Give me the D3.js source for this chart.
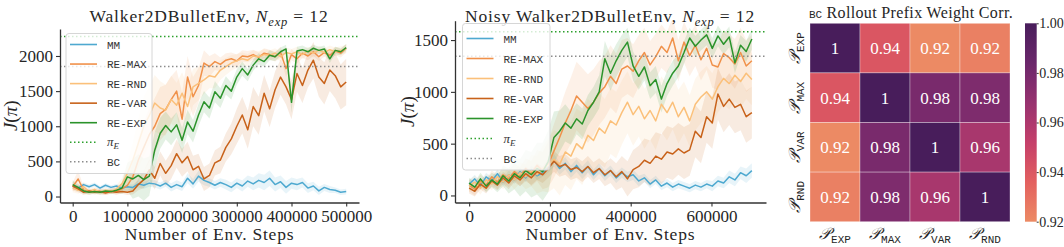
<!DOCTYPE html>
<html>
<head>
<meta charset="utf-8">
<script src="https://cdn.jsdelivr.net/npm/d3@7"></script>
<style>
  body { margin: 0; background: #fff; }
  svg { display: block; }
</style>
</head>
<body>
<script>
// ---- data ----
const methods = ["MM", "RE-MAX", "RE-RND", "RE-VAR", "RE-EXP"];
const colors = ["#4ea9d0", "#f0914a", "#fbc07a", "#c8621a", "#2b932b"];

// Walker2DBulletEnv, steps 0..500000 every 10000
const steps1 = d3.range(0, 500001, 10000);
const mm1 = [150,120,170,140,170,120,160,130,150,120, 140,130,180,160,190,180,150,190,130,170,
  140,260,180,290,230,200,160,200,170,130, 190,150,220,180,230,200,260,170,210,130,
  190,170,200,120,150,80,130,100,90,60,70];
const reMax1 = [140,250,90,60,80,70,60,80,70,110, 160,280,520,700,880,1000,1180,1240,1380,1500,
  1100,1700,1420,1580,1900,1850,1920,1880,1940,1960, 1930,2000,1990,2020,1980,2040,2020,1990,2050,1820,
  2020,1960,2040,2000,2060,1990,2050,2010,2070,2040,2110];
const reRnd1 = [120,90,140,70,100,60,90,70,110,180, 330,520,760,1000,1150,1330,1260,1230,1380,1300,
  1470,1280,1560,1610,1660,1720,1700,1800,1850,1900, 1930,1960,1940,2000,1990,2020,2010,2040,1990,2050,
  2030,2060,2020,2070,2040,2080,2050,2090,2060,2080,2100];
const reVar1 = [150,110,60,80,60,70,50,70,60,70, 60,80,170,240,380,260,470,330,440,610,
  480,570,380,430,250,300,480,520,700,820, 1000,1160,950,1280,1150,1470,1250,1520,1700,1560,
  1380,1750,1580,1800,1940,1700,1610,1800,1720,1560,1630];
const reExp1 = [170,130,80,60,70,60,80,70,90,120, 280,250,300,240,290,660,900,1010,920,1020,
  800,1060,930,1160,1350,1260,1490,1400,1580,1500, 1700,1820,1730,1870,1960,1920,2010,1990,2060,2100,
  1340,2070,2090,2060,2110,2080,2100,1960,2080,2060,2120];
const mm1Sd = [30,30,30,30,30,30,30,30,30,30, 40,40,50,50,50,50,50,50,60,60,
  60,70,70,80,70,60,60,60,70,70, 70,80,80,90,100,110,110,100,90,90,
  80,80,70,70,60,60,50,50,40,40,40];
const reMax1Sd = [60,120,50,40,40,40,40,40,40,60, 100,200,300,350,380,400,380,350,330,300,
  380,300,280,250,180,150,120,100,100,90, 90,80,80,70,70,70,70,70,80,120,
  80,70,70,60,60,60,60,60,60,60,60];
const reRnd1Sd = [60,50,60,40,40,40,40,40,50,80, 150,250,350,420,420,400,380,360,340,320,
  300,280,260,240,200,180,160,140,120,110, 100,90,90,80,80,80,70,70,70,70,
  70,70,60,60,60,60,60,60,60,60,60];
const reVar1Sd = [60,50,40,30,30,30,30,30,30,30, 40,50,80,120,150,160,170,180,190,200,
  200,210,200,180,170,170,180,190,200,220, 250,260,270,280,270,260,260,260,250,250,
  280,260,250,250,260,280,300,300,320,320,330];
const reExp1Sd = [60,50,40,30,30,30,30,30,40,80, 200,280,300,300,280,260,220,200,190,180,
  180,170,160,160,150,150,150,140,130,120, 110,100,90,80,80,70,70,60,60,60,
  150,60,60,50,50,50,50,60,50,50,50];
const expert1 = 2276, bc1 = 1849;

// Noisy Walker2DBulletEnv, steps 0..700000 every 14000
const steps2 = d3.range(0, 700001, 14000);
const mm2 = [110,160,90,180,140,210,130,200,150,230, 170,250,190,220,270,340,260,310,230,290,
  220,280,200,260,190,240,170,220,180,200, 140,170,110,150,90,120,80,110,90,70,
  100,80,110,90,140,120,180,150,220,190,240];
const reMax2 = [100,60,140,100,180,130,200,160,230,180, 260,210,290,240,300,430,560,700,820,960,
  900,840,900,990,1050,1150,1080,1220,1250,1200, 1300,1380,1260,1340,1440,1380,1520,1300,1480,1350,
  1450,1310,1420,1260,1240,1370,1330,1270,1380,1250,1300];
const reRnd2 = [90,130,70,150,110,180,130,200,150,220, 180,240,200,260,290,350,300,420,380,500,
  450,580,530,650,600,720,680,800,900,780, 860,740,820,720,880,800,900,760,850,720,
  880,950,1000,930,1050,1130,1080,1160,1100,1180,1120];
const reVar2 = [70,40,110,70,140,100,170,120,190,150, 210,170,230,200,260,330,280,300,250,270,
  230,280,220,260,200,240,180,230,160,250, 280,340,310,380,350,420,400,450,410,440,
  620,560,760,700,980,860,930,850,880,760,800];
const reExp2 = [120,80,160,90,150,110,190,140,210,170, 240,200,260,230,330,560,620,700,650,740,
  690,820,900,1000,1320,1180,1300,1400,1480,1250, 1150,1240,1060,1120,930,1080,1180,1250,1380,1520,
  1440,1500,1550,1420,1540,1460,1530,1280,1450,1390,1510];
const mm2Sd = [40,40,40,40,40,40,40,40,40,40, 40,40,40,40,50,60,60,60,60,60,
  60,60,50,50,50,50,50,50,50,50, 50,40,40,40,40,40,40,40,40,40,
  40,40,40,50,50,50,60,60,60,70,70];
const reMax2Sd = [60,60,60,60,60,70,70,80,80,90, 100,120,150,180,220,260,280,300,320,330,
  330,330,320,310,300,300,290,280,270,260, 250,240,230,220,210,200,200,200,200,200,
  200,200,210,220,220,230,230,240,240,250,250];
const reRnd2Sd = [60,60,60,60,60,70,70,80,90,100, 120,150,180,220,260,280,300,320,330,340,
  350,350,350,340,330,320,320,310,300,300, 290,290,280,280,270,270,260,260,250,250,
  250,250,250,250,250,250,250,250,250,250,250];
const reVar2Sd = [50,50,50,50,50,50,60,60,60,60, 70,70,80,80,90,100,100,100,100,100,
  100,100,100,100,110,120,130,150,170,190, 200,210,220,230,240,250,250,250,250,250,
  250,250,250,250,250,250,250,250,250,250,250];
const reExp2Sd = [50,50,60,60,70,80,100,120,150,180, 200,220,250,280,300,250,200,180,160,150,
  150,150,150,160,170,170,160,150,140,140, 130,130,130,130,130,120,120,110,110,100,
  100,100,100,100,100,100,100,100,100,100,100];
const expert2 = 1581, bc2 = 1345;

// heatmap
const prefixes = ["EXP", "MAX", "VAR", "RND"];
const corr = [
  [1.000, 0.941, 0.920, 0.924],
  [0.941, 1.000, 0.979, 0.977],
  [0.920, 0.979, 1.000, 0.962],
  [0.924, 0.977, 0.962, 1.000]
];
const cbarTicks = [0.92, 0.94, 0.96, 0.98, 1.00];

// ---- drawing ----
const serif = "'Liberation Serif', 'DejaVu Serif', serif";
const mono = "'Liberation Mono', 'DejaVu Sans Mono', monospace";
const ink = "#262626";

const svg = d3.select("body").append("svg")
  .attr("width", 1064).attr("height", 247);

function addTitle(g, pre, cx, y) {
  const t = g.append("text").attr("x", cx).attr("y", y)
    .attr("text-anchor", "middle")
    .style("font-family", serif).style("font-size", "17.5px")
    .style("letter-spacing", "0.85px").attr("fill", ink);
  t.append("tspan").text(pre + ", ");
  t.append("tspan").style("font-style", "italic").text("N");
  t.append("tspan").style("font-style", "italic").style("font-size", "12.5px").attr("dy", 4).text("exp");
  t.append("tspan").attr("dy", -4).text(" = 12");
}

function drawPanel(p, idx) {
  const g = svg.append("g");
  const x = d3.scaleLinear().domain(p.xDomain).range(p.xRange);
  const y = d3.scaleLinear().domain(p.yDomain).range(p.yRange);

  g.append("clipPath").attr("id", "clip" + idx)
    .append("rect")
    .attr("x", p.xRange[0]).attr("y", p.yRange[1])
    .attr("width", p.xRange[1] - p.xRange[0]).attr("height", p.yRange[0] - p.yRange[1]);
  const plot = g.append("g").attr("clip-path", `url(#clip${idx})`);

  // shaded bands
  p.series.forEach((s, k) => {
    const area = d3.area()
      .x((d, i) => x(p.steps[i]))
      .y0((d, i) => y(d - s.sd[i]))
      .y1((d, i) => y(d + s.sd[i]));
    plot.append("path").datum(s.values)
      .attr("d", area).attr("fill", colors[k]).attr("fill-opacity", 0.13);
  });

  // mean lines
  p.series.forEach((s, k) => {
    const line = d3.line().x((d, i) => x(p.steps[i])).y(d => y(d));
    plot.append("path").datum(s.values)
      .attr("d", line).attr("fill", "none")
      .attr("stroke", colors[k]).attr("stroke-width", 1.5)
      .attr("stroke-linejoin", "round");
  });

  // reference lines
  [[p.expert, "#2ca02c"], [p.bc, "#8c8c8c"]].forEach(([v, c]) => {
    plot.append("line")
      .attr("x1", p.xRange[0]).attr("x2", p.xRange[1])
      .attr("y1", y(v)).attr("y2", y(v))
      .attr("stroke", c).attr("stroke-width", 1.5)
      .attr("stroke-dasharray", "1.5,2.5");
  });

  // axes
  const xAxis = g.append("g").attr("transform", `translate(0,${p.yRange[0]})`)
    .call(d3.axisBottom(x).tickValues(p.xTicks).tickSize(4).tickSizeOuter(0).tickPadding(3)
      .tickFormat(d3.format("d")));
  const yAxis = g.append("g").attr("transform", `translate(${p.xRange[0]},0)`)
    .call(d3.axisLeft(y).tickValues(p.yTicks).tickSize(4).tickSizeOuter(0).tickPadding(3)
      .tickFormat(d3.format("d")));
  [xAxis, yAxis].forEach(a => {
    a.select(".domain").attr("stroke", "#333").attr("stroke-width", 1.3);
    a.selectAll(".tick line").attr("stroke", "#333").attr("stroke-width", 1.1);
    a.selectAll(".tick text").attr("fill", ink)
      .style("font-family", serif).style("font-size", "17px");
  });

  // axis labels
  g.append("text")
    .attr("x", (p.xRange[0] + p.xRange[1]) / 2).attr("y", 240)
    .attr("text-anchor", "middle")
    .style("font-family", serif).style("font-size", "17.5px")
    .style("letter-spacing", "0.75px").attr("fill", ink)
    .text("Number of Env. Steps");
  const yl = g.append("text")
    .attr("transform", `translate(${p.yLabelX},${(p.yRange[0] + p.yRange[1]) / 2}) rotate(-90)`)
    .attr("text-anchor", "middle")
    .style("font-family", serif).style("font-size", "19px").attr("fill", ink);
  yl.append("tspan").style("font-style", "italic").text("J");
  yl.append("tspan").text("(");
  yl.append("tspan").style("font-style", "italic").text("π");
  yl.append("tspan").text(")");

  addTitle(g, p.title, p.titleX, 22);

  // legend
  const L = p.legend;
  const lg = g.append("g");
  lg.append("rect")
    .attr("x", L.x).attr("y", L.y).attr("width", L.w).attr("height", L.h)
    .attr("rx", 3).attr("fill", "#fff").attr("fill-opacity", 0.8)
    .attr("stroke", "#d6d6d6").attr("stroke-width", 1);
  const entries = methods.map((m, k) => ({ label: m, color: colors[k], dash: null }))
    .concat([{ label: "piE", color: "#2ca02c", dash: "1.5,2.5" },
             { label: "BC", color: "#8c8c8c", dash: "1.5,2.5" }]);
  entries.forEach((e, k) => {
    const ey = L.y0 + k * L.dy;
    lg.append("line")
      .attr("x1", L.x + 4).attr("x2", L.x + 31).attr("y1", ey).attr("y2", ey)
      .attr("stroke", e.color).attr("stroke-width", 1.6)
      .attr("stroke-dasharray", e.dash);
    const t = lg.append("text").attr("x", L.x + 41).attr("y", ey + 4)
      .attr("fill", "#333");
    if (e.label === "piE") {
      t.style("font-family", serif).style("font-size", "13px");
      t.append("tspan").style("font-style", "italic").text("π");
      t.append("tspan").style("font-style", "italic").style("font-size", "9px").attr("dy", 3).text("E");
    } else {
      t.style("font-family", mono).style("font-size", "11px").text(e.label);
    }
  });
}

drawPanel({
  title: "Walker2DBulletEnv", titleX: 209,
  steps: steps1,
  series: [
    { values: mm1, sd: mm1Sd }, { values: reMax1, sd: reMax1Sd }, { values: reRnd1, sd: reRnd1Sd },
    { values: reVar1, sd: reVar1Sd }, { values: reExp1, sd: reExp1Sd }
  ],
  expert: expert1, bc: bc1,
  xDomain: [-23200, 523400], xRange: [60, 359],
  yDomain: [-85, 2384], yRange: [202.5, 29],
  xTicks: [0, 100000, 200000, 300000, 400000, 500000],
  yTicks: [0, 500, 1000, 1500, 2000],
  yLabelX: 17,
  legend: { x: 66, y: 33.5, w: 86, h: 140, y0: 44.5, dy: 19.55 }
}, 1);

drawPanel({
  title: "Noisy Walker2DBulletEnv", titleX: 610,
  steps: steps2,
  series: [
    { values: mm2, sd: mm2Sd }, { values: reMax2, sd: reMax2Sd }, { values: reRnd2, sd: reRnd2Sd },
    { values: reVar2, sd: reVar2Sd }, { values: reExp2, sd: reExp2Sd }
  ],
  expert: expert2, bc: bc2,
  xDomain: [-35000, 735000], xRange: [455, 766],
  yDomain: [-68, 1687], yRange: [202.5, 20.7],
  xTicks: [0, 200000, 400000, 600000],
  yTicks: [0, 500, 1000, 1500],
  yLabelX: 414,
  legend: { x: 462.5, y: 23.5, w: 87.5, h: 146.5, y0: 38.5, dy: 20 }
}, 2);

// ---- heatmap ----
const hm = svg.append("g");
const hx = d3.scaleBand().domain(prefixes).range([810, 1010]);
const hy = d3.scaleBand().domain(prefixes).range([23.3, 221.7]);
const cmap = d3.scaleLinear()
  .domain([0.92, 0.936, 0.952, 0.968, 0.984, 1.0])
  .range(["#ec8a64", "#e3605f", "#c53f6a", "#97326f", "#6b276b", "#481d5b"])
  .interpolate(d3.interpolateRgb)
  .clamp(true);

const cells = [];
corr.forEach((row, i) => row.forEach((v, j) => cells.push({ r: prefixes[i], c: prefixes[j], v })));
hm.selectAll("rect.cell").data(cells).enter().append("rect")
  .attr("class", "cell")
  .attr("x", d => hx(d.c)).attr("y", d => hy(d.r))
  .attr("width", hx.bandwidth()).attr("height", hy.bandwidth())
  .attr("fill", d => cmap(d.v))
  .attr("stroke", "#fff").attr("stroke-opacity", 0.45).attr("stroke-width", 0.7);
hm.selectAll("text.val").data(cells).enter().append("text")
  .attr("x", d => hx(d.c) + hx.bandwidth() / 2)
  .attr("y", d => hy(d.r) + hy.bandwidth() / 2 + 6)
  .attr("text-anchor", "middle").attr("fill", "#fff")
  .style("font-family", serif).style("font-size", "17px")
  .text(d => d3.format(".2~g")(d.v));

function prefixLabel(t, key) {
  t.append("tspan").style("font-family", "'DejaVu Serif', serif").style("font-style", "italic")
    .style("font-size", "16px").text("𝒫");
  t.append("tspan").style("font-family", mono).style("font-size", "11px").attr("dy", 4).text(key);
}
prefixes.forEach(k => {
  const t = hm.append("text")
    .attr("x", hx(k) + hx.bandwidth() / 2).attr("y", 239)
    .attr("text-anchor", "middle").attr("fill", ink);
  prefixLabel(t, k);
  const r = hm.append("text")
    .attr("transform", `translate(800,${hy(k) + hy.bandwidth() / 2}) rotate(-90)`)
    .attr("text-anchor", "middle").attr("fill", ink);
  prefixLabel(r, k);
});

const ht = hm.append("text").attr("x", 911).attr("y", 18).attr("text-anchor", "middle").attr("fill", ink);
ht.append("tspan").style("font-family", mono).style("font-size", "11px").text("BC");
ht.append("tspan").style("font-family", serif).style("font-size", "16px")
  .style("letter-spacing", "0.35px").text(" Rollout Prefix Weight Corr.");

// colorbar
const cy = d3.scaleLinear().domain([0.92, 1.0]).range([221.7, 23.3]);
const defs = svg.append("defs");
const grad = defs.append("linearGradient").attr("id", "cbar")
  .attr("x1", 0).attr("y1", 1).attr("x2", 0).attr("y2", 0);
d3.range(0, 1.0001, 0.05).forEach(t => {
  grad.append("stop").attr("offset", t).attr("stop-color", cmap(0.92 + t * 0.08));
});
hm.append("rect").attr("x", 1025).attr("y", 23.3).attr("width", 11.7).attr("height", 198.4)
  .attr("fill", "url(#cbar)");
const cAxis = hm.append("g").attr("transform", "translate(1036.7,0)")
  .call(d3.axisRight(cy).tickValues(cbarTicks).tickSize(2).tickSizeOuter(0).tickPadding(0.5)
    .tickFormat(d3.format(".2f")));
cAxis.select(".domain").remove();
cAxis.selectAll(".tick line").attr("stroke", "#333");
cAxis.selectAll(".tick text").attr("fill", ink).style("font-family", serif).style("font-size", "14px");
</script>
</body>
</html>
